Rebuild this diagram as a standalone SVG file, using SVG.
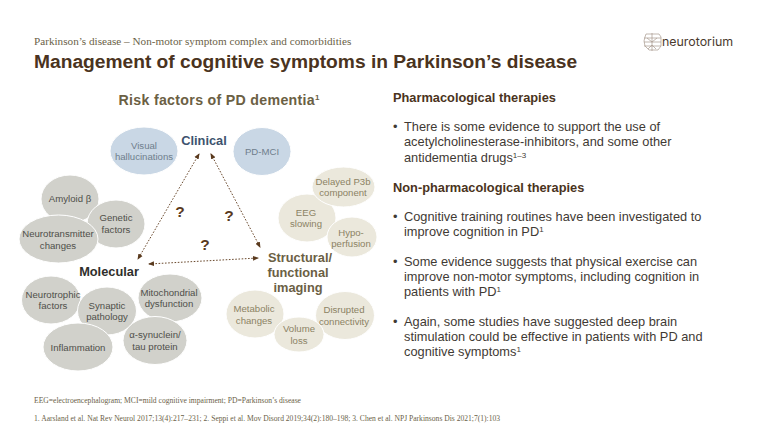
<svg xmlns="http://www.w3.org/2000/svg" width="768" height="432" viewBox="0 0 768 432">
<style>
text{font-family:"Liberation Sans",Arial,sans-serif}
.ser{font-family:"Liberation Serif","Times New Roman",serif}
.e{stroke:#fff;stroke-width:1}
.b{fill:#c9d7e5}.g{fill:#d1d1cb}.t{fill:#ebe8dc}
.l{font-size:9.6px;text-anchor:middle}
.lb{fill:#6f7e8c}.lg{fill:#4f4f4a}.lt{fill:#8b8364}
.h{font-size:12.8px;font-weight:bold}
.p{font-size:12.8px;fill:#3f3a34}
.q{font-size:15.5px;font-weight:bold;fill:#5a3a1e;text-anchor:middle}
.c{fill:none;stroke:#6b4a2e;stroke-width:1;stroke-dasharray:1.6 1.6;marker-start:url(#a);marker-end:url(#a)}
.lnk{fill:none;stroke:#a89a8e;stroke-width:.7}
</style>
<defs><marker id="a" viewBox="0 0 6 6" refX="5" refY="3" markerWidth="6" markerHeight="6" orient="auto-start-reverse" markerUnits="userSpaceOnUse"><path d="M0 0.6L6 3L0 5.4z" fill="#5a3a1e"/></marker></defs>
<rect width="768" height="432" fill="#fff"/>
<g id="header">
<text class="ser" x="34" y="45" font-size="11.2" fill="#6b5f48">Parkinson’s disease – Non-motor symptom complex and comorbidities</text>
<text x="34" y="68" font-size="19.2" font-weight="bold" fill="#4a3320">Management of cognitive symptoms in Parkinson’s disease</text>
</g>
<g id="logo">
<path class="lnk" d="M646 34h13l2 3v9l-3 4h-9l-4-4-1-5 1-4zM652 33v18M644 38h17M644 42h17M644 46h17M647 38l5 4 5-4M648 49l4-4 4 4"/>
<text x="662" y="46" font-size="12.4" fill="#4a3a2e" style="font-family:Inter,'Liberation Sans',sans-serif">neurotorium</text>
</g>
<text id="title-risk" x="219" y="105" text-anchor="middle" font-size="14.200" font-weight="bold" fill="#6b6044" textLength="201">Risk factors of PD dementia<tspan font-size="8" dy="-5">1</tspan></text>
<g id="connectors">
<path class="c" d="M199 154L138 259"/>
<path class="c" d="M211 154L260 247"/>
<path class="c" d="M149 264L258 258"/>
</g>
<g id="q-marks"><text class="q" x="180" y="217">?</text><text class="q" x="229" y="221">?</text><text class="q" x="205" y="250">?</text></g>
<g id="clinical">
<text x="204" y="145" text-anchor="middle" font-size="12.8" font-weight="bold" fill="#3d536e">Clinical</text>
<g id="visual"><ellipse class="e b" cx="144" cy="151" rx="34" ry="24"/><text class="l lb" x="144" y="149">Visual</text><text class="l lb" x="144" y="160">hallucinations</text></g>
<g id="pdmci"><ellipse class="e b" cx="262" cy="151.500" rx="29" ry="24"/><text class="l lb" x="262" y="155">PD-MCI</text></g>
</g>
<g id="molecular">
<text x="109" y="276" text-anchor="middle" font-size="12.800" font-weight="bold" fill="#2f2f2b">Molecular</text>
<g id="amyloid"><ellipse class="e g" cx="70" cy="199" rx="29" ry="24"/><text class="l lg" x="70" y="202">Amyloid β</text></g>
<g id="genetic"><ellipse class="e g" cx="116" cy="224" rx="29" ry="24"/><text class="l lg" x="116" y="221">Genetic</text><text class="l lg" x="116" y="233">factors</text></g>
<g id="neurotransmitter"><ellipse class="e g" cx="58.500" cy="239" rx="39.500" ry="24"/><text class="l lg" x="58" y="237">Neurotransmitter</text><text class="l lg" x="58" y="249">changes</text></g>
<g id="neurotrophic"><ellipse class="e g" cx="51" cy="300" rx="29.500" ry="24"/><text class="l lg" x="53" y="298">Neurotrophic</text><text class="l lg" x="53" y="309">factors</text></g>
<g id="synaptic"><ellipse class="e g" cx="107" cy="311" rx="29.500" ry="24"/><text class="l lg" x="107" y="309">Synaptic</text><text class="l lg" x="107" y="320">pathology</text></g>
<g id="mito"><ellipse class="e g" cx="170" cy="298" rx="32" ry="24"/><text class="l lg" x="169" y="296">Mitochondrial</text><text class="l lg" x="169" y="307">dysfunction</text></g>
<g id="inflammation"><ellipse class="e g" cx="78" cy="347" rx="35" ry="24"/><text class="l lg" x="78" y="351">Inflammation</text></g>
<g id="synuclein"><ellipse class="e g" cx="155" cy="340.500" rx="32" ry="24"/><text class="l lg" x="155" y="338">α-synuclein/</text><text class="l lg" x="155" y="350">tau protein</text></g>
</g>
<g id="imaging">
<text x="300" y="262" text-anchor="middle" font-size="12.800" font-weight="bold" fill="#6b6044">Structural/</text>
<text x="298" y="277" text-anchor="middle" font-size="12.800" font-weight="bold" fill="#6b6044">functional</text>
<text x="298" y="292" text-anchor="middle" font-size="12.800" font-weight="bold" fill="#6b6044">imaging</text>
<g id="eeg"><ellipse class="e t" cx="307" cy="218" rx="29" ry="24"/><text class="l lt" x="306" y="216">EEG</text><text class="l lt" x="306" y="227">slowing</text></g>
<g id="delayed"><ellipse class="e t" cx="343.500" cy="187" rx="31.500" ry="20"/><text class="l lt" x="343" y="185">Delayed P3b</text><text class="l lt" x="343" y="196">component</text></g>
<g id="hypo"><ellipse class="e t" cx="352" cy="237" rx="25" ry="20"/><text class="l lt" x="351" y="236">Hypo-</text><text class="l lt" x="351" y="247">perfusion</text></g>
<g id="metabolic"><ellipse class="e t" cx="255" cy="314" rx="29" ry="24"/><text class="l lt" x="254" y="312">Metabolic</text><text class="l lt" x="254" y="324">changes</text></g>
<g id="disrupted"><ellipse class="e t" cx="345" cy="315.500" rx="29.500" ry="24"/><text class="l lt" x="344" y="313">Disrupted</text><text class="l lt" x="344" y="325">connectivity</text></g>
<g id="volume"><ellipse class="e t" cx="299" cy="334.500" rx="25" ry="17.500"/><text class="l lt" x="299" y="332">Volume</text><text class="l lt" x="299" y="344">loss</text></g>
</g>
<g id="therapies">
<text class="h" x="393" y="102" fill="#4a3320">Pharmacological therapies</text>
<text class="p" x="393" y="131">•</text>
<text class="p" x="404" y="131">There is some evidence to support the use of</text>
<text class="p" x="404" y="146">acetylcholinesterase-inhibitors, and some other</text>
<text class="p" x="404" y="162">antidementia drugs<tspan font-size="8" dy="-4">1–3</tspan></text>
<text class="h" x="393" y="192" fill="#4a3320">Non-pharmacological therapies</text>
<text class="p" x="393" y="221">•</text>
<text class="p" x="404" y="221">Cognitive training routines have been investigated to</text>
<text class="p" x="404" y="236">improve cognition in PD<tspan font-size="8" dy="-4">1</tspan></text>
<text class="p" x="393" y="266">•</text>
<text class="p" x="404" y="266">Some evidence suggests that physical exercise can</text>
<text class="p" x="404" y="281">improve non-motor symptoms, including cognition in</text>
<text class="p" x="404" y="296">patients with PD<tspan font-size="8" dy="-4">1</tspan></text>
<text class="p" x="393" y="326">•</text>
<text class="p" x="404" y="326">Again, some studies have suggested deep brain</text>
<text class="p" x="404" y="341">stimulation could be effective in patients with PD and</text>
<text class="p" x="404" y="356">cognitive symptoms<tspan font-size="8" dy="-4">1</tspan></text>
</g>
<g id="footer">
<text class="ser" x="34" y="403" font-size="7.600" fill="#6b5f48">EEG=electroencephalogram; MCI=mild cognitive impairment; PD=Parkinson’s disease</text>
<text class="ser" x="34" y="421" font-size="7.600" fill="#6b5f48">1. Aarsland et al. Nat Rev Neurol 2017;13(4):217–231; 2. Seppi et al. Mov Disord 2019;34(2):180–198; 3. Chen et al. NPJ Parkinsons Dis 2021;7(1):103</text>
</g>
</svg>
